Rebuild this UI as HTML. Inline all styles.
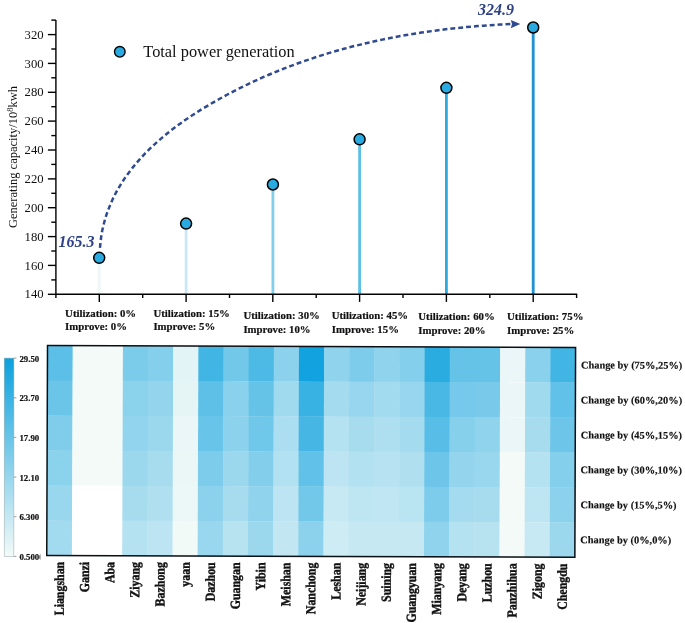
<!DOCTYPE html>
<html lang="en"><head><meta charset="utf-8"><title>Power generation chart</title>
<style>html,body{margin:0;padding:0;background:#fff}svg{display:block}text{font-family:"Liberation Serif", serif}</style></head><body>
<svg width="685" height="623" viewBox="0 0 685 623">
<rect width="685" height="623" fill="#fff"/>
<defs><linearGradient id="cb" x1="0" y1="0" x2="0" y2="1"><stop offset="0" stop-color="#0ca0de"/><stop offset="1" stop-color="#f3faf8"/></linearGradient></defs>
<line x1="99.2" y1="257.8" x2="99.2" y2="294.3" stroke="#EEF7F8" stroke-width="2.8"/>
<line x1="186.1" y1="223.6" x2="186.1" y2="294.3" stroke="#C9E8F3" stroke-width="2.8"/>
<line x1="272.9" y1="184.5" x2="272.9" y2="294.3" stroke="#82CEEB" stroke-width="2.8"/>
<line x1="359.6" y1="139.3" x2="359.6" y2="294.3" stroke="#5BC0E8" stroke-width="2.8"/>
<line x1="446.4" y1="87.8" x2="446.4" y2="294.3" stroke="#2BAAE0" stroke-width="2.8"/>
<line x1="533.2" y1="27.5" x2="533.2" y2="294.3" stroke="#1E92D0" stroke-width="2.8"/>
<g stroke="#000" stroke-width="1.4" fill="none">
<path d="M55.9 20 V294.3 H577.2"/>
<path d="M47.9 294.3 h8.0"/>
<path d="M51.3 279.9 h4.6"/>
<path d="M47.9 265.4 h8.0"/>
<path d="M51.3 251.0 h4.6"/>
<path d="M47.9 236.6 h8.0"/>
<path d="M51.3 222.2 h4.6"/>
<path d="M47.9 207.7 h8.0"/>
<path d="M51.3 193.3 h4.6"/>
<path d="M47.9 178.9 h8.0"/>
<path d="M51.3 164.4 h4.6"/>
<path d="M47.9 150.0 h8.0"/>
<path d="M51.3 135.6 h4.6"/>
<path d="M47.9 121.1 h8.0"/>
<path d="M51.3 106.7 h4.6"/>
<path d="M47.9 92.3 h8.0"/>
<path d="M51.3 77.8 h4.6"/>
<path d="M47.9 63.4 h8.0"/>
<path d="M51.3 49.0 h4.6"/>
<path d="M47.9 34.6 h8.0"/>
<path d="M51.3 20.1 h4.6"/>
<path d="M55.9 294.3 v3.7"/>
<path d="M99.3 294.3 v7.6"/>
<path d="M142.7 294.3 v3.7"/>
<path d="M186.1 294.3 v7.6"/>
<path d="M229.5 294.3 v3.7"/>
<path d="M272.8 294.3 v7.6"/>
<path d="M316.2 294.3 v3.7"/>
<path d="M359.6 294.3 v7.6"/>
<path d="M403.0 294.3 v3.7"/>
<path d="M446.4 294.3 v7.6"/>
<path d="M489.8 294.3 v3.7"/>
<path d="M533.2 294.3 v7.6"/>
<path d="M576.6 294.3 v3.7"/>
</g>
<g font-size="12.7" text-anchor="end" fill="#111">
<text x="43.6" y="298.4">140</text>
<text x="43.6" y="269.5">160</text>
<text x="43.6" y="240.7">180</text>
<text x="43.6" y="211.8">200</text>
<text x="43.6" y="183.0">220</text>
<text x="43.6" y="154.1">240</text>
<text x="43.6" y="125.2">260</text>
<text x="43.6" y="96.4">280</text>
<text x="43.6" y="67.5">300</text>
<text x="43.6" y="38.7">320</text>
</g>
<text transform="translate(16.6,157) rotate(-90)" font-size="12.5" text-anchor="middle" fill="#111">Generating capacity/10<tspan font-size="8.5" dy="-3.6">8</tspan><tspan dy="3.6">kwh</tspan></text>
<circle cx="119.8" cy="51.8" r="5.3" fill="#29ABE2" stroke="#000" stroke-width="1.4"/>
<text x="143.3" y="56.6" font-size="16.35" fill="#111">Total power generation</text>
<path d="M100.0 247.9 L100.5 241.9 L101.3 236.0 L102.3 230.2 L103.6 224.6 L105.1 219.1 L106.8 213.7 L108.8 208.4 L110.9 203.2 L113.2 198.1 L115.7 193.2 L118.4 188.3 L121.3 183.6 L124.3 178.9 L127.5 174.4 L130.8 170.0 L134.3 165.6 L137.9 161.4 L141.6 157.2 L145.4 153.2 L149.4 149.2 L153.4 145.4 L157.6 141.6 L161.9 137.9 L166.2 134.3 L170.6 130.7 L175.1 127.3 L179.7 123.9 L184.4 120.6 L189.1 117.4 L193.9 114.2 L198.7 111.1 L203.6 108.1 L208.5 105.2 L213.4 102.3 L218.4 99.5 L223.4 96.7 L228.4 94.0 L233.5 91.4 L238.5 88.8 L243.6 86.3 L248.7 83.8 L253.9 81.4 L259.0 79.0 L264.2 76.7 L269.4 74.5 L274.6 72.3 L279.9 70.2 L285.1 68.1 L290.4 66.1 L295.7 64.1 L301.0 62.2 L306.3 60.4 L311.7 58.6 L317.0 56.8 L322.4 55.1 L327.8 53.4 L333.2 51.8 L338.6 50.3 L344.0 48.8 L349.5 47.3 L354.9 45.9 L360.4 44.6 L365.9 43.3 L371.4 42.0 L376.9 40.8 L382.4 39.6 L388.0 38.5 L393.5 37.4 L399.1 36.3 L404.6 35.3 L410.2 34.4 L415.8 33.5 L421.4 32.6 L427.0 31.8 L432.6 31.0 L438.2 30.2 L443.8 29.5 L449.4 28.9 L455.0 28.2 L460.7 27.7 L466.3 27.1 L472.0 26.6 L477.6 26.1 L483.2 25.7 L488.9 25.3 L494.5 24.9 L500.2 24.6 L505.9 24.3 L511.5 24.0" fill="none" stroke="#2F4A8E" stroke-width="2.5" stroke-dasharray="4.9 3.0" stroke-linecap="butt" stroke-linejoin="round"/>
<path d="M520.3 24 L510.8 19.9 L512.0 24.1 L510.8 28.3 Z" fill="#2F4A8E"/>
<circle cx="99.2" cy="257.8" r="5.5" fill="#29ABE2" stroke="#000" stroke-width="1.5"/>
<circle cx="186.1" cy="223.6" r="5.5" fill="#29ABE2" stroke="#000" stroke-width="1.5"/>
<circle cx="272.9" cy="184.5" r="5.5" fill="#29ABE2" stroke="#000" stroke-width="1.5"/>
<circle cx="359.6" cy="139.3" r="5.5" fill="#29ABE2" stroke="#000" stroke-width="1.5"/>
<circle cx="446.4" cy="87.8" r="5.5" fill="#29ABE2" stroke="#000" stroke-width="1.5"/>
<circle cx="533.2" cy="27.5" r="5.5" fill="#29ABE2" stroke="#000" stroke-width="1.5"/>
<g font-size="16" font-weight="bold" font-style="italic" fill="#2F4289">
<text x="58.4" y="247.3">165.3</text>
<text x="477.9" y="14.6">324.9</text>
</g>
<g font-size="10.8" font-weight="bold" fill="#111" stroke="#111" stroke-width="0.2">
<text transform="translate(65.1,316.5) scale(1,1.05)">Utilization: 0%</text><text transform="translate(65.1,330.2) scale(1,1.05)">Improve: 0%</text>
<text transform="translate(153.4,316.5) scale(1,1.05)">Utilization: 15%</text><text transform="translate(153.4,330.2) scale(1,1.05)">Improve: 5%</text>
<text transform="translate(243.4,318.8) scale(1,1.05)">Utilization: 30%</text><text transform="translate(243.4,332.5) scale(1,1.05)">Improve: 10%</text>
<text transform="translate(331.7,318.9) scale(1,1.05)">Utilization: 45%</text><text transform="translate(331.7,332.6) scale(1,1.05)">Improve: 15%</text>
<text transform="translate(418.3,319.8) scale(1,1.05)">Utilization: 60%</text><text transform="translate(418.3,333.5) scale(1,1.05)">Improve: 20%</text>
<text transform="translate(507.0,319.8) scale(1,1.05)">Utilization: 75%</text><text transform="translate(507.0,333.5) scale(1,1.05)">Improve: 25%</text>
</g>
<g transform="rotate(0.206 47.5 345.5)">
<g>
<rect x="47.50" y="345.50" width="25.55" height="35.38" fill="#5bbfe7"/>
<rect x="72.65" y="345.50" width="25.55" height="35.38" fill="#f3faf8"/>
<rect x="97.80" y="345.50" width="25.55" height="35.38" fill="#f3faf8"/>
<rect x="122.94" y="345.50" width="25.55" height="35.38" fill="#7bcbea"/>
<rect x="148.09" y="345.50" width="25.55" height="35.38" fill="#84cfec"/>
<rect x="173.24" y="345.50" width="25.55" height="35.38" fill="#e3f4f6"/>
<rect x="198.39" y="345.50" width="25.55" height="35.38" fill="#41b5e4"/>
<rect x="223.53" y="345.50" width="25.55" height="35.38" fill="#72c8e9"/>
<rect x="248.68" y="345.50" width="25.55" height="35.38" fill="#4db9e5"/>
<rect x="273.83" y="345.50" width="25.55" height="35.38" fill="#8dd2ed"/>
<rect x="298.98" y="345.50" width="25.55" height="35.38" fill="#11a2df"/>
<rect x="324.12" y="345.50" width="25.55" height="35.38" fill="#90d3ed"/>
<rect x="349.27" y="345.50" width="25.55" height="35.38" fill="#7dcceb"/>
<rect x="374.42" y="345.50" width="25.55" height="35.38" fill="#90d3ed"/>
<rect x="399.57" y="345.50" width="25.55" height="35.38" fill="#84cfec"/>
<rect x="424.71" y="345.50" width="25.55" height="35.38" fill="#2aace1"/>
<rect x="449.86" y="345.50" width="25.55" height="35.38" fill="#66c3e8"/>
<rect x="475.01" y="345.50" width="25.55" height="35.38" fill="#66c3e8"/>
<rect x="500.16" y="345.50" width="25.55" height="35.38" fill="#eaf6f7"/>
<rect x="525.30" y="345.50" width="25.55" height="35.38" fill="#89d1ec"/>
<rect x="550.45" y="345.50" width="25.55" height="35.38" fill="#41b5e4"/>
<rect x="47.50" y="380.48" width="25.55" height="35.38" fill="#6bc5e9"/>
<rect x="72.65" y="380.48" width="25.55" height="35.38" fill="#f3faf8"/>
<rect x="97.80" y="380.48" width="25.55" height="35.38" fill="#f3faf8"/>
<rect x="122.94" y="380.48" width="25.55" height="35.38" fill="#8bd2ec"/>
<rect x="148.09" y="380.48" width="25.55" height="35.38" fill="#94d5ed"/>
<rect x="173.24" y="380.48" width="25.55" height="35.38" fill="#e5f5f6"/>
<rect x="198.39" y="380.48" width="25.55" height="35.38" fill="#5fc0e7"/>
<rect x="223.53" y="380.48" width="25.55" height="35.38" fill="#89d1ec"/>
<rect x="248.68" y="380.48" width="25.55" height="35.38" fill="#66c3e8"/>
<rect x="273.83" y="380.48" width="25.55" height="35.38" fill="#a0daef"/>
<rect x="298.98" y="380.48" width="25.55" height="35.38" fill="#38b1e3"/>
<rect x="324.12" y="380.48" width="25.55" height="35.38" fill="#a4dbef"/>
<rect x="349.27" y="380.48" width="25.55" height="35.38" fill="#97d6ee"/>
<rect x="374.42" y="380.48" width="25.55" height="35.38" fill="#a2daef"/>
<rect x="399.57" y="380.48" width="25.55" height="35.38" fill="#97d6ee"/>
<rect x="424.71" y="380.48" width="25.55" height="35.38" fill="#4ab8e5"/>
<rect x="449.86" y="380.48" width="25.55" height="35.38" fill="#76c9ea"/>
<rect x="475.01" y="380.48" width="25.55" height="35.38" fill="#79caea"/>
<rect x="500.16" y="380.48" width="25.55" height="35.38" fill="#eaf6f7"/>
<rect x="525.30" y="380.48" width="25.55" height="35.38" fill="#a0daef"/>
<rect x="550.45" y="380.48" width="25.55" height="35.38" fill="#61c1e8"/>
<rect x="47.50" y="415.47" width="25.55" height="35.38" fill="#80cdeb"/>
<rect x="72.65" y="415.47" width="25.55" height="35.38" fill="#f3faf8"/>
<rect x="97.80" y="415.47" width="25.55" height="35.38" fill="#f3faf8"/>
<rect x="122.94" y="415.47" width="25.55" height="35.38" fill="#92d4ed"/>
<rect x="148.09" y="415.47" width="25.55" height="35.38" fill="#9bd8ee"/>
<rect x="173.24" y="415.47" width="25.55" height="35.38" fill="#eaf6f7"/>
<rect x="198.39" y="415.47" width="25.55" height="35.38" fill="#68c4e8"/>
<rect x="223.53" y="415.47" width="25.55" height="35.38" fill="#8dd2ed"/>
<rect x="248.68" y="415.47" width="25.55" height="35.38" fill="#6fc7e9"/>
<rect x="273.83" y="415.47" width="25.55" height="35.38" fill="#abdef0"/>
<rect x="298.98" y="415.47" width="25.55" height="35.38" fill="#46b6e4"/>
<rect x="324.12" y="415.47" width="25.55" height="35.38" fill="#b5e2f1"/>
<rect x="349.27" y="415.47" width="25.55" height="35.38" fill="#a7dcef"/>
<rect x="374.42" y="415.47" width="25.55" height="35.38" fill="#aedff0"/>
<rect x="399.57" y="415.47" width="25.55" height="35.38" fill="#a4dbef"/>
<rect x="424.71" y="415.47" width="25.55" height="35.38" fill="#58bee7"/>
<rect x="449.86" y="415.47" width="25.55" height="35.38" fill="#86d0ec"/>
<rect x="475.01" y="415.47" width="25.55" height="35.38" fill="#90d3ed"/>
<rect x="500.16" y="415.47" width="25.55" height="35.38" fill="#eaf6f7"/>
<rect x="525.30" y="415.47" width="25.55" height="35.38" fill="#a7dcef"/>
<rect x="550.45" y="415.47" width="25.55" height="35.38" fill="#6dc6e9"/>
<rect x="47.50" y="450.45" width="25.55" height="35.38" fill="#8bd2ec"/>
<rect x="72.65" y="450.45" width="25.55" height="35.38" fill="#f3faf8"/>
<rect x="97.80" y="450.45" width="25.55" height="35.38" fill="#f3faf8"/>
<rect x="122.94" y="450.45" width="25.55" height="35.38" fill="#9bd8ee"/>
<rect x="148.09" y="450.45" width="25.55" height="35.38" fill="#a7dcef"/>
<rect x="173.24" y="450.45" width="25.55" height="35.38" fill="#ebf7f7"/>
<rect x="198.39" y="450.45" width="25.55" height="35.38" fill="#7dcceb"/>
<rect x="223.53" y="450.45" width="25.55" height="35.38" fill="#9bd8ee"/>
<rect x="248.68" y="450.45" width="25.55" height="35.38" fill="#82ceeb"/>
<rect x="273.83" y="450.45" width="25.55" height="35.38" fill="#b2e1f1"/>
<rect x="298.98" y="450.45" width="25.55" height="35.38" fill="#61c1e8"/>
<rect x="324.12" y="450.45" width="25.55" height="35.38" fill="#bce4f2"/>
<rect x="349.27" y="450.45" width="25.55" height="35.38" fill="#b2e1f1"/>
<rect x="374.42" y="450.45" width="25.55" height="35.38" fill="#b6e2f1"/>
<rect x="399.57" y="450.45" width="25.55" height="35.38" fill="#b0e0f0"/>
<rect x="424.71" y="450.45" width="25.55" height="35.38" fill="#6dc6e9"/>
<rect x="449.86" y="450.45" width="25.55" height="35.38" fill="#94d5ed"/>
<rect x="475.01" y="450.45" width="25.55" height="35.38" fill="#99d7ee"/>
<rect x="500.16" y="450.45" width="25.55" height="35.38" fill="#f3faf8"/>
<rect x="525.30" y="450.45" width="25.55" height="35.38" fill="#b5e2f1"/>
<rect x="550.45" y="450.45" width="25.55" height="35.38" fill="#84cfec"/>
<rect x="47.50" y="485.43" width="25.55" height="35.38" fill="#99d7ee"/>
<rect x="72.65" y="485.43" width="25.55" height="35.38" fill="#ffffff"/>
<rect x="97.80" y="485.43" width="25.55" height="35.38" fill="#ffffff"/>
<rect x="122.94" y="485.43" width="25.55" height="35.38" fill="#a7dcef"/>
<rect x="148.09" y="485.43" width="25.55" height="35.38" fill="#b0e0f0"/>
<rect x="173.24" y="485.43" width="25.55" height="35.38" fill="#ecf7f7"/>
<rect x="198.39" y="485.43" width="25.55" height="35.38" fill="#8dd2ed"/>
<rect x="223.53" y="485.43" width="25.55" height="35.38" fill="#a7dcef"/>
<rect x="248.68" y="485.43" width="25.55" height="35.38" fill="#90d3ed"/>
<rect x="273.83" y="485.43" width="25.55" height="35.38" fill="#bce4f2"/>
<rect x="298.98" y="485.43" width="25.55" height="35.38" fill="#72c8e9"/>
<rect x="324.12" y="485.43" width="25.55" height="35.38" fill="#c7e9f3"/>
<rect x="349.27" y="485.43" width="25.55" height="35.38" fill="#bee5f2"/>
<rect x="374.42" y="485.43" width="25.55" height="35.38" fill="#bfe6f2"/>
<rect x="399.57" y="485.43" width="25.55" height="35.38" fill="#b9e4f2"/>
<rect x="424.71" y="485.43" width="25.55" height="35.38" fill="#7dcceb"/>
<rect x="449.86" y="485.43" width="25.55" height="35.38" fill="#a4dbef"/>
<rect x="475.01" y="485.43" width="25.55" height="35.38" fill="#a7dcef"/>
<rect x="500.16" y="485.43" width="25.55" height="35.38" fill="#f3faf8"/>
<rect x="525.30" y="485.43" width="25.55" height="35.38" fill="#bee5f2"/>
<rect x="550.45" y="485.43" width="25.55" height="35.38" fill="#8dd2ed"/>
<rect x="47.50" y="520.42" width="25.55" height="35.38" fill="#a2daef"/>
<rect x="72.65" y="520.42" width="25.55" height="35.38" fill="#ffffff"/>
<rect x="97.80" y="520.42" width="25.55" height="35.38" fill="#ffffff"/>
<rect x="122.94" y="520.42" width="25.55" height="35.38" fill="#b5e2f1"/>
<rect x="148.09" y="520.42" width="25.55" height="35.38" fill="#bce4f2"/>
<rect x="173.24" y="520.42" width="25.55" height="35.38" fill="#f2faf8"/>
<rect x="198.39" y="520.42" width="25.55" height="35.38" fill="#99d7ee"/>
<rect x="223.53" y="520.42" width="25.55" height="35.38" fill="#b7e3f1"/>
<rect x="248.68" y="520.42" width="25.55" height="35.38" fill="#9bd8ee"/>
<rect x="273.83" y="520.42" width="25.55" height="35.38" fill="#c2e7f3"/>
<rect x="298.98" y="520.42" width="25.55" height="35.38" fill="#8dd2ed"/>
<rect x="324.12" y="520.42" width="25.55" height="35.38" fill="#ceecf4"/>
<rect x="349.27" y="520.42" width="25.55" height="35.38" fill="#c5e8f3"/>
<rect x="374.42" y="520.42" width="25.55" height="35.38" fill="#c6e8f3"/>
<rect x="399.57" y="520.42" width="25.55" height="35.38" fill="#c5e8f3"/>
<rect x="424.71" y="520.42" width="25.55" height="35.38" fill="#90d3ed"/>
<rect x="449.86" y="520.42" width="25.55" height="35.38" fill="#b5e2f1"/>
<rect x="475.01" y="520.42" width="25.55" height="35.38" fill="#b7e3f1"/>
<rect x="500.16" y="520.42" width="25.55" height="35.38" fill="#f3faf8"/>
<rect x="525.30" y="520.42" width="25.55" height="35.38" fill="#c7e9f3"/>
<rect x="550.45" y="520.42" width="25.55" height="35.38" fill="#9bd8ee"/>
</g>
<rect x="47.5" y="345.5" width="528.1" height="209.9" fill="none" stroke="#0a0f14" stroke-width="1.5"/>
<g font-size="10.4" font-weight="bold" fill="#111" stroke="#111" stroke-width="0.15">
<text x="581" y="366.5">Change by (75%,25%)</text>
<text x="581" y="401.5">Change by (60%,20%)</text>
<text x="581" y="436.5">Change by (45%,15%)</text>
<text x="581" y="471.4">Change by (30%,10%)</text>
<text x="581" y="506.4">Change by (15%,5%)</text>
<text x="581" y="541.4">Change by (0%,0%)</text>
</g>
<g font-size="11.9" font-weight="bold" fill="#111" stroke="#111" stroke-width="0.35" text-anchor="end">
<text transform="translate(64.8,561.7) rotate(-90) scale(1,1.16)">Liangshan</text>
<text transform="translate(89.9,561.7) rotate(-90) scale(1,1.16)">Ganzi</text>
<text transform="translate(115.1,561.7) rotate(-90) scale(1,1.16)">Aba</text>
<text transform="translate(140.2,561.7) rotate(-90) scale(1,1.16)">Ziyang</text>
<text transform="translate(165.4,561.7) rotate(-90) scale(1,1.16)">Bazhong</text>
<text transform="translate(190.5,561.7) rotate(-90) scale(1,1.16)">yaan</text>
<text transform="translate(215.7,561.7) rotate(-90) scale(1,1.16)">Dazhou</text>
<text transform="translate(240.8,561.7) rotate(-90) scale(1,1.16)">Guangan</text>
<text transform="translate(266.0,561.7) rotate(-90) scale(1,1.16)">Yibin</text>
<text transform="translate(291.1,561.7) rotate(-90) scale(1,1.16)">Meishan</text>
<text transform="translate(316.2,561.7) rotate(-90) scale(1,1.16)">Nanchong</text>
<text transform="translate(341.4,561.7) rotate(-90) scale(1,1.16)">Leshan</text>
<text transform="translate(366.5,561.7) rotate(-90) scale(1,1.16)">Neijiang</text>
<text transform="translate(391.7,561.7) rotate(-90) scale(1,1.16)">Suining</text>
<text transform="translate(416.8,561.7) rotate(-90) scale(1,1.16)">Guangyuan</text>
<text transform="translate(442.0,561.7) rotate(-90) scale(1,1.16)">Mianyang</text>
<text transform="translate(467.1,561.7) rotate(-90) scale(1,1.16)">Deyang</text>
<text transform="translate(492.3,561.7) rotate(-90) scale(1,1.16)">Luzhou</text>
<text transform="translate(517.4,561.7) rotate(-90) scale(1,1.16)">Panzhihua</text>
<text transform="translate(542.6,561.7) rotate(-90) scale(1,1.16)">Zigong</text>
<text transform="translate(567.7,561.7) rotate(-90) scale(1,1.16)">Chengdu</text>
</g>
</g>
<rect x="4.2" y="358.1" width="9.7" height="198.3" fill="url(#cb)" stroke="#9aa" stroke-width="0.5"/>
<clipPath id="cl"><rect x="0" y="340" width="40.3" height="240"/></clipPath><g font-size="8.8" font-weight="bold" fill="#111" stroke="#111" stroke-width="0.2" clip-path="url(#cl)">
<path d="M13.9 358.1 h2.5" stroke="#777" stroke-width="0.7" fill="none"/>
<text x="19.4" y="361.5">29.50</text>
<path d="M13.9 397.8 h2.5" stroke="#777" stroke-width="0.7" fill="none"/>
<text x="19.4" y="401.2">23.70</text>
<path d="M13.9 437.4 h2.5" stroke="#777" stroke-width="0.7" fill="none"/>
<text x="19.4" y="440.8">17.90</text>
<path d="M13.9 477.1 h2.5" stroke="#777" stroke-width="0.7" fill="none"/>
<text x="19.4" y="480.5">12.10</text>
<path d="M13.9 516.7 h2.5" stroke="#777" stroke-width="0.7" fill="none"/>
<text x="19.4" y="520.1">6.300</text>
<path d="M13.9 556.4 h2.5" stroke="#777" stroke-width="0.7" fill="none"/>
<text x="19.4" y="559.8">0.5000</text>
</g>
</svg></body></html>
